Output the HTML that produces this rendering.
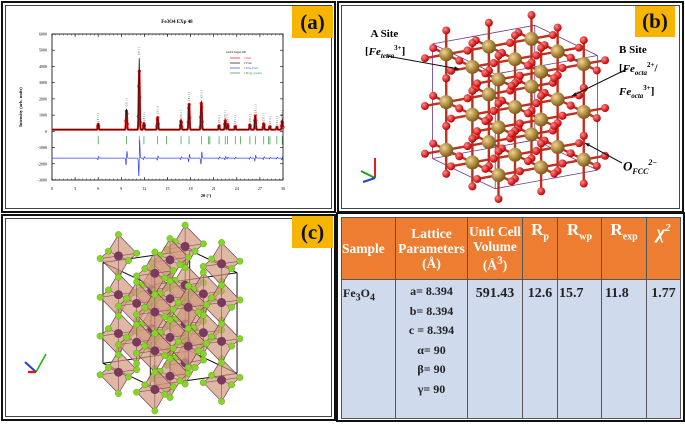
<!DOCTYPE html>
<html><head><meta charset="utf-8">
<style>
body{margin:0;width:685px;height:426px;background:#fff;position:relative;overflow:hidden;font-family:"Liberation Serif",serif}
.panel{position:absolute;border:2px solid #111;box-sizing:border-box;background:#fff}
.inner{position:absolute;left:2px;top:2px;right:2px;bottom:2px;border:1px solid #444}
.lab{position:absolute;background:#f7b500;font:bold 21px "Liberation Serif",serif;color:#111;text-align:center}
table{border-collapse:collapse;position:absolute;left:3px;top:3px;width:340px;height:202px;font-weight:bold;color:#222}
th{background:#ed7d31;color:#fff;font-size:13.5px;line-height:15px;border:1px solid #555;padding:0;font-weight:bold}
td{background:#cfdaed;border:1px solid #555;vertical-align:top;text-align:center;font-size:14px;padding-top:6px}
</style></head><body>

<div class="panel" style="left:1px;top:1px;width:335px;height:212px"><div class="inner"></div></div>
<svg style="position:absolute;left:0;top:0" width="337" height="212" id="xrd"></svg>
<div class="lab" style="left:292px;top:6px;width:41px;height:32px;line-height:32px">(a)</div>

<div class="panel" style="left:337px;top:1px;width:347px;height:212px"><div class="inner"></div></div>
<svg style="position:absolute;left:337px;top:1px" width="347" height="212" id="crysb"></svg>
<div class="lab" style="left:635px;top:6px;width:40px;height:31px;line-height:31px">(b)</div>
<div style="position:absolute;left:365px;top:27px;font:bold 11px 'Liberation Serif',serif;line-height:14px">&nbsp;&nbsp;A Site<br>[<i>Fe<sub style="font-size:7px">tetra</sub></i><sup style="font-size:7px">3+</sup>]</div>
<div style="position:absolute;left:619px;top:43px;font:bold 11px 'Liberation Serif',serif;line-height:15px">B Site<br>[<i>Fe<sub style="font-size:7px">octa</sub></i><sup style="font-size:7px">2+</sup>/<br><i>Fe<sub style="font-size:7px">octa</sub></i><sup style="font-size:7px">3+</sup>]</div>
<div style="position:absolute;left:623px;top:158px;font:bold italic 13px 'Liberation Serif',serif">O<sub style="font-size:8px">FCC</sub><sup style="font-size:8px">2−</sup></div>

<div class="panel" style="left:1px;top:214px;width:335px;height:207px"><div class="inner"></div></div>
<svg style="position:absolute;left:0;top:214px" width="337" height="207" id="crysc"></svg>
<div class="lab" style="left:292px;top:216px;width:41px;height:32px;line-height:32px">(c)</div>

<div class="panel" style="left:336px;top:212px;width:349px;height:210px">
<table>
<tr style="height:62px">
<th style="width:53px;text-align:left">Sample</th>
<th style="width:71px">Lattice Parameters (Å)</th>
<th style="width:54px">Unit Cell Volume (Å<sup>3</sup>)</th>
<th style="width:34px;vertical-align:top;font-size:17px;padding-top:4px">R<sub style="font-size:10px">p</sub></th>
<th style="width:43px;vertical-align:top;font-size:17px;padding-top:4px">R<sub style="font-size:10px">wp</sub></th>
<th style="width:44px;vertical-align:top;font-size:17px;padding-top:4px">R<sub style="font-size:10px">exp</sub></th>
<th style="vertical-align:top;font-size:19px;font-style:italic;padding-top:3px">χ<sup style="font-size:11px">2</sup></th>
</tr>
<tr>
<td style="text-align:left;font-size:12px">Fe<sub>3</sub>O<sub>4</sub></td>
<td style="font-size:12px;line-height:19.5px;padding-top:2px">a= 8.394<br>b= 8.394<br>c = 8.394<br>α= 90<br>β= 90<br>γ= 90</td>
<td>591.43</td>
<td>12.6</td>
<td style="text-align:left">15.7</td>
<td style="text-align:left;padding-left:3px">11.8</td>
<td>1.77</td>
</tr></table></div>

<script>
// ---- XRD data ----
const peakPos = [6.0, 9.68, 11.33, 11.94, 13.72, 16.76, 17.8, 19.4, 21.7, 22.5, 22.8, 23.8, 25.7, 26.4, 27.5, 28.3, 29.2, 29.9];
const peakCalc = [350, 1300, 4450, 400, 820, 560, 1650, 1800, 260, 560, 330, 220, 320, 900, 380, 200, 170, 560];
const peakObs = [330, 1200, 3650, 380, 780, 540, 1620, 1700, 250, 540, 320, 210, 300, 880, 360, 190, 160, 520];
const braggPos = [6.0, 9.68, 11.33, 11.94, 13.72, 14.89, 16.76, 17.8, 19.4, 20.3, 20.5, 21.7, 22.5, 22.8, 23.8, 24.5, 25.7, 26.4, 27.5, 28.1, 28.3, 29.2, 29.9];
const diffSpike = [120, 500, 1300, 100, 150, 100, 250, 450, 80, 120, 60, 60, 80, 200, 100, 60, 60, 120];
const yTicks = [6000, 5000, 4000, 3000, 2000, 1000, 0, -1000, -2000, -3000];
const xTicks = [0, 3, 6, 9, 12, 15, 18, 21, 24, 27, 30];
const baseline = 100, braggLevel = -550, diffLevel = -1650;

const NS = "http://www.w3.org/2000/svg";
function mk(parent, tag, attrs){const e=document.createElementNS(NS,tag);for(const k in attrs)e.setAttribute(k,attrs[k]);parent.appendChild(e);return e;}
const svg = document.getElementById('xrd');
const X0=52,X1=283,Y0=34,Y1=180;
const sx = v => X0 + (v-0)/(30-0)*(X1-X0);
const sy = v => Y0 + (6000-v)/(9000)*(Y1-Y0);
function prof(x, h){let s=baseline;for(let i=0;i<peakPos.length;i++){const d=(x-peakPos[i])/0.09;s+=h[i]*Math.exp(-d*d);}return s;}

let t=mk(svg,'text',{x:177,y:23,'font-size':5,'text-anchor':'middle','font-weight':'bold','font-family':'Liberation Serif'});t.textContent='Fe3O4 EXp 48';

let ax=mk(svg,'rect',{x:X0,y:Y0,width:X1-X0,height:Y1-Y0,fill:'none',stroke:'#000','stroke-width':0.8});

yTicks.forEach(v=>{const y=sy(v);mk(svg,'line',{x1:X0,x2:X0+3,y1:y,y2:y,stroke:'#000','stroke-width':0.6});mk(svg,'line',{x1:X1,x2:X1-3,y1:y,y2:y,stroke:'#000','stroke-width':0.6});
 const l=mk(svg,'text',{x:X0-5,y:y+1.5,'font-size':4,'text-anchor':'end','font-family':'Liberation Serif'});l.textContent=v;
 });
xTicks.forEach(v=>{const x=sx(v);mk(svg,'line',{x1:x,x2:x,y1:Y1,y2:Y1-3,stroke:'#000','stroke-width':0.6});mk(svg,'line',{x1:x,x2:x,y1:Y0,y2:Y0+3,stroke:'#000','stroke-width':0.6});
 const l=mk(svg,'text',{x:x,y:Y1+10,'font-size':4,'text-anchor':'middle','font-family':'Liberation Serif'});l.textContent=v;
 });
for(let v=0;v<=30;v+=0.5){const x=sx(v);mk(svg,'line',{x1:x,x2:x,y1:Y1,y2:Y1-1.5,stroke:'#000','stroke-width':0.4});mk(svg,'line',{x1:x,x2:x,y1:Y0,y2:Y0+1.5,stroke:'#000','stroke-width':0.4});}
t=mk(svg,'text',{x:22,y:107,'font-size':4.5,'text-anchor':'middle',transform:'rotate(-90 22 107)','font-family':'Liberation Serif','font-weight':'bold'});t.textContent='Intensity (arb. units)';

t=mk(svg,'text',{x:206,y:197,'font-size':4.5,'text-anchor':'middle','font-family':'Liberation Serif','font-weight':'bold'});t.textContent='2θ (°)';


let dObs='',dCalc='',dDiff='';
for(let x=0;x<=30;x+=0.02){const X=sx(x);dObs+=(dObs?'L':'M')+X.toFixed(2)+','+sy(prof(x,peakObs)).toFixed(2);
 dCalc+=(dCalc?'L':'M')+X.toFixed(2)+','+sy(prof(x,peakCalc)).toFixed(2);
 let d=diffLevel;for(let i=0;i<peakPos.length;i++){const u=(x-peakPos[i])/0.08;d+=diffSpike[i]*u*Math.exp(-u*u)*2;}
 dDiff+=(dDiff?'L':'M')+X.toFixed(2)+','+sy(d).toFixed(2);}
let p=mk(svg,'path',{d:dObs,fill:'none',stroke:'#e01010','stroke-width':2.2});
for(let x=0;x<=30;x+=0.06){const y=prof(x,peakObs);if(y>baseline+150){const c=mk(svg,'circle',{cx:sx(x),cy:sy(y),r:1.3,fill:'none',stroke:'#e01010','stroke-width':0.6});}}
p=mk(svg,'path',{d:dCalc,fill:'none',stroke:'#111','stroke-width':0.6});
p=mk(svg,'path',{d:dDiff,fill:'none',stroke:'#3344ee','stroke-width':0.7});
braggPos.forEach(v=>{const l=mk(svg,'line',{x1:sx(v),x2:sx(v),y1:sy(braggLevel+250),y2:sy(braggLevel-250),stroke:'#2a9a3a','stroke-width':0.7});});
peakPos.forEach((v,i)=>{const y=sy(peakCalc[i])-4;const l=mk(svg,'text',{x:sx(v)+1,y:y,'font-size':2.6,transform:`rotate(-90 ${sx(v)+1} ${y})`,'font-family':'Liberation Serif'});l.textContent='( 3 1 1 )';});
const legItems=[['1  Yobs','#e01010'],['2  Ycalc','#111'],['3  Yobs-Ycalc','#3344ee'],['4  Bragg_position','#2a9a3a']];
t=mk(svg,'text',{x:226,y:53,'font-size':2.6,'font-family':'Liberation Serif'});t.textContent='Global magnet 400';
legItems.forEach((it,i)=>{const y=58+i*5;mk(svg,'line',{x1:230,x2:240,y1:y,y2:y,stroke:it[1],'stroke-width':0.7});
 const l=mk(svg,'text',{x:244,y:y+1,'font-size':2.6,fill:it[1],'font-family':'Liberation Serif'});l.textContent=it[0];});

// ---- crystal drawings (decorative) ----
function proj(p,yaw,pitch){const cy=Math.cos(yaw),syw=Math.sin(yaw),cp=Math.cos(pitch),sp=Math.sin(pitch);
 let x=p[0]*cy+p[2]*syw, z=-p[0]*syw+p[2]*cy; let y=p[1]*cp-z*sp; z=p[1]*sp+z*cp; return [x,y,z];}
(function(){const s=document.getElementById('crysb');
 const defs=mk(s,'defs',{});
 let g=mk(defs,'radialGradient',{id:'gFe',cx:'35%',cy:'35%',r:'65%'});mk(g,'stop',{offset:'0','stop-color':'#f2d58a'});mk(g,'stop',{offset:'1','stop-color':'#7d5a18'});
 g=mk(defs,'radialGradient',{id:'gO',cx:'35%',cy:'35%',r:'65%'});mk(g,'stop',{offset:'0','stop-color':'#ff8a8a'});mk(g,'stop',{offset:'1','stop-color':'#c00000'});
 const atoms=[],bonds=[];const C=[178,106],S=50;
 const P=v=>{const q=proj(v,0.55,0.3);return [C[0]+q[0]*S,C[1]-q[1]*S,q[2]];};
 for(let i=-1;i<=1;i++)for(let j=-1;j<=1;j++)for(let k=-1;k<=1;k++){
  const fe=P([i,j,k]);atoms.push({p:fe,r:7,f:'url(#gFe)'});
  [[0.5,0,0],[0,0.5,0],[0,0,0.5],[-0.5,0,0],[0,-0.5,0],[0,0,-0.5]].forEach(o=>{const op=P([i+o[0],j+o[1],k+o[2]]);atoms.push({p:op,r:4,f:'url(#gO)'});bonds.push([fe,op]);});}
 const cube=[[-1.2,-1.2,-1.2],[1.2,-1.2,-1.2],[1.2,1.2,-1.2],[-1.2,1.2,-1.2],[-1.2,-1.2,1.2],[1.2,-1.2,1.2],[1.2,1.2,1.2],[-1.2,1.2,1.2]].map(P);
 [[0,1],[1,2],[2,3],[3,0],[4,5],[5,6],[6,7],[7,4],[0,4],[1,5],[2,6],[3,7]].forEach(e=>mk(s,'line',{x1:cube[e[0]][0],y1:cube[e[0]][1],x2:cube[e[1]][0],y2:cube[e[1]][1],stroke:'#6a3a8a','stroke-width':0.8}));
 bonds.forEach(b=>mk(s,'line',{x1:b[0][0],y1:b[0][1],x2:b[1][0],y2:b[1][1],stroke:'#c03020','stroke-width':2.4}));
 atoms.sort((a,b)=>a.p[2]-b.p[2]).forEach(a=>mk(s,'circle',{cx:a.p[0],cy:a.p[1],r:a.r,fill:a.f}));
 [[[50,55],[122,68]],[[290,68],[235,95]],[[285,162],[248,142]]].forEach(a=>{mk(s,'line',{x1:a[0][0],y1:a[0][1],x2:a[1][0],y2:a[1][1],stroke:'#111','stroke-width':1});
  const ang=Math.atan2(a[1][1]-a[0][1],a[1][0]-a[0][0]);const h=5;
  mk(s,'polygon',{points:`${a[1][0]},${a[1][1]} ${a[1][0]-h*Math.cos(ang-0.4)},${a[1][1]-h*Math.sin(ang-0.4)} ${a[1][0]-h*Math.cos(ang+0.4)},${a[1][1]-h*Math.sin(ang+0.4)}`,fill:'#111'});});
 mk(s,'line',{x1:38,y1:177,x2:38,y2:157,stroke:'#e02020','stroke-width':2});mk(s,'line',{x1:38,y1:177,x2:24,y2:170,stroke:'#20a020','stroke-width':2});mk(s,'line',{x1:38,y1:177,x2:26,y2:181,stroke:'#2040d0','stroke-width':2});
})();
(function(){const s=document.getElementById('crysc');
 const C=[170,104],S=40;const P=v=>{const q=proj(v,0.5,0.25);return [C[0]+q[0]*S*0.95,C[1]-q[1]*S*1.0,q[2]];};
 const cube=[[-1.3,-1.3,-1.3],[1.3,-1.3,-1.3],[1.3,1.3,-1.3],[-1.3,1.3,-1.3],[-1.3,-1.3,1.3],[1.3,-1.3,1.3],[1.3,1.3,1.3],[-1.3,1.3,1.3]].map(P);
 [[0,1],[1,2],[2,3],[3,0],[4,5],[5,6],[6,7],[7,4],[0,4],[1,5],[2,6],[3,7]].forEach(e=>mk(s,'line',{x1:cube[e[0]][0],y1:cube[e[0]][1],x2:cube[e[1]][0],y2:cube[e[1]][1],stroke:'#111','stroke-width':1}));
 const items=[];
 for(let i=-1;i<=1;i++)for(let j=-1.5;j<=1.5;j++)for(let k=-1;k<=1;k++){
  if((i+k)%2!==0&&Math.abs(j)>1)continue;
  const c=P([i,j,k]);const vs=[[0.55,0,0],[-0.55,0,0],[0,0.55,0],[0,-0.55,0],[0,0,0.55],[0,0,-0.55]].map(o=>P([i+o[0],j+o[1],k+o[2]]));
  items.push({c,vs});}
 items.sort((a,b)=>a.c[2]-b.c[2]).forEach(it=>{
  const vs=it.vs.slice().sort((a,b)=>Math.atan2(a[1]-it.c[1],a[0]-it.c[0])-Math.atan2(b[1]-it.c[1],b[0]-it.c[0]));
  mk(s,'polygon',{points:vs.map(v=>v[0]+','+v[1]).join(' '),fill:'#d29a7c','fill-opacity':0.7,stroke:'#7a4060','stroke-width':0.7});
  it.vs.forEach(v=>mk(s,'line',{x1:it.c[0],y1:it.c[1],x2:v[0],y2:v[1],stroke:'#8a4a6a','stroke-width':0.6}));
  mk(s,'circle',{cx:it.c[0],cy:it.c[1],r:4.5,fill:'#7a3a5c'});
  it.vs.forEach(v=>mk(s,'circle',{cx:v[0],cy:v[1],r:3.2,fill:'#86d42a',stroke:'#5a9a10','stroke-width':0.4}));});
 mk(s,'line',{x1:36,y1:158,x2:46,y2:140,stroke:'#20b020','stroke-width':1.6});mk(s,'line',{x1:36,y1:158,x2:25,y2:148,stroke:'#2040d0','stroke-width':2});mk(s,'line',{x1:36,y1:158,x2:28,y2:158,stroke:'#d02020','stroke-width':2.4});
})();
</script>
</body></html>
